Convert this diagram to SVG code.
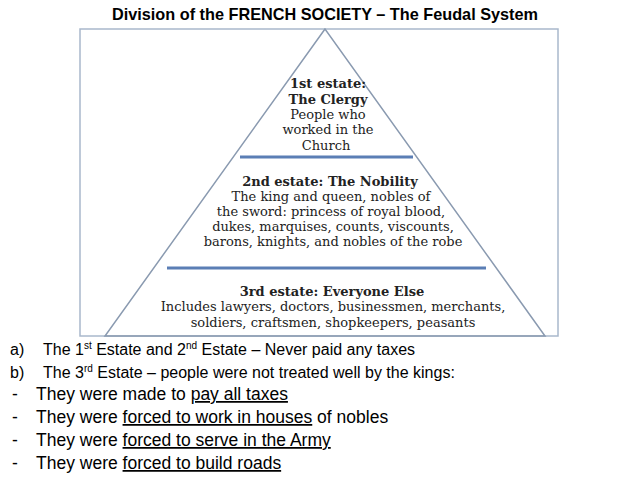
<svg xmlns="http://www.w3.org/2000/svg" width="638" height="478" viewBox="0 0 638 478">
<style>
.t{font-family:"DejaVu Serif","Liberation Serif",serif;font-size:13px;fill:#222;text-anchor:middle}
.b{font-weight:bold}
.s{font-family:"Liberation Sans",Arial,sans-serif;fill:#000}
.u{text-decoration:underline}
</style>
<rect width="638" height="478" fill="#fff"/>
<text class="s" x="325" y="20" font-size="17" font-weight="bold" text-anchor="middle" textLength="426" lengthAdjust="spacingAndGlyphs">Division of the FRENCH SOCIETY – The Feudal System</text>
<g id="pyramid">
<rect x="80" y="29" width="478" height="307" fill="#fff" stroke="#a9b8cc" stroke-width="1.5"/>
<polygon points="325,29 105,336 545,336" fill="none" stroke="#8a9ab0" stroke-width="1.5"/>
</g>
<g id="connectors">
<line x1="240" y1="157" x2="413" y2="157" stroke="#5b7eb5" stroke-width="3"/>
<line x1="167" y1="268" x2="486" y2="268" stroke="#5b7eb5" stroke-width="3"/>
</g>
<g id="estate1">
<text class="t b" x="328" y="88">1st estate:</text>
<text class="t b" x="328" y="104">The Clergy</text>
<text class="t" x="328" y="119">People who</text>
<text class="t" x="328" y="134">worked in the</text>
<text class="t" x="326" y="150">Church</text>
</g>
<g id="estate2">
<text class="t b" x="330" y="186">2nd estate: The Nobility</text>
<text class="t" x="331" y="201">The king and queen, nobles of</text>
<text class="t" x="331" y="216">the sword: princess of royal blood,</text>
<text class="t" x="333" y="231">dukes, marquises, counts, viscounts,</text>
<text class="t" x="333" y="246">barons, knights, and nobles of the robe</text>
</g>
<g id="estate3">
<text class="t b" x="332" y="296">3rd estate: Everyone Else</text>
<text class="t" x="333" y="311">Includes lawyers, doctors, businessmen, merchants,</text>
<text class="t" x="333" y="327">soldiers, craftsmen, shopkeepers, peasants</text>
</g>
<g id="notes" class="s">
<text x="10" y="355" font-size="16">a)</text>
<text x="43" y="355" font-size="16">The 1<tspan font-size="10" dy="-6">st</tspan><tspan dy="6"> Estate and 2</tspan><tspan font-size="10" dy="-6">nd</tspan><tspan dy="6"> Estate – Never paid any taxes</tspan></text>
<text x="10" y="378" font-size="16">b)</text>
<text x="43" y="378" font-size="16">The 3<tspan font-size="10" dy="-6">rd</tspan><tspan dy="6"> Estate – people were not treated well by the kings:</tspan></text>
<text x="12" y="400" font-size="17.5">-</text>
<text x="36" y="400" font-size="17.5">They were made to <tspan class="u">pay all taxes</tspan></text>
<text x="12" y="423" font-size="17.5">-</text>
<text x="36" y="423" font-size="17.5">They were <tspan class="u">forced to work in houses</tspan> of nobles</text>
<text x="12" y="446" font-size="17.5">-</text>
<text x="36" y="446" font-size="17.5">They were <tspan class="u">forced to serve in the Army</tspan></text>
<text x="12" y="469" font-size="17.5">-</text>
<text x="36" y="469" font-size="17.5">They were <tspan class="u">forced to build roads</tspan></text>
</g>
</svg>
